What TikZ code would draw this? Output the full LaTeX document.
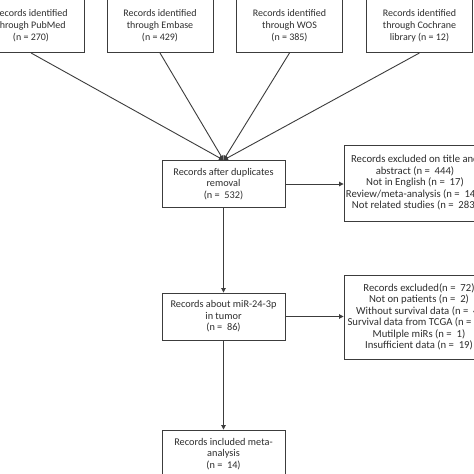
\documentclass[tikz,border=0pt]{standalone}
\usepackage{fontspec}
\setmainfont{Carlito}
\usetikzlibrary{arrows.meta}
\definecolor{linegray}{HTML}{3C3C3C}
\definecolor{textgray}{HTML}{2E2E2E}
\begin{document}
\begin{tikzpicture}[x=1pt,y=-1pt,
  box/.style={draw=linegray, line width=0.9pt, fill=white, align=center,
    inner sep=0pt, text=textgray, font=\fontsize{10.3}{11.5}\selectfont},
  topbox/.style={box, minimum width=106pt, minimum height=53pt,
    font=\fontsize{10}{12}\selectfont},
  midbox/.style={box, minimum width=123pt, minimum height=47pt},
  exbox/.style={box, font=\fontsize{10.7}{11.5}\selectfont},
  conn/.style={draw=linegray, line width=0.9pt,
    -{Triangle[length=4.5pt,width=4.5pt]}}]
\useasboundingbox (0,0) rectangle (474,474);
\clip (0,0) rectangle (474,474);
\fill[white] (0,0) rectangle (474,474);

\node[topbox] (s1) at (31,26) {Records identified\\through PubMed\\(n = 270)};
\node[topbox] (s2) at (160,26) {Records identified\\through Embase\\(n = 429)};
\node[topbox] (s3) at (289.5,26) {Records identified\\through WOS\\(n = 385)};
\node[topbox] (s4) at (419.5,26) {Records identified\\through Cochrane\\library (n = 12)};

\node[midbox] (m1) at (223.5,184) {Records after duplicates\\removal\\(n = \ 532)};
\node[exbox, minimum width=142pt, minimum height=76pt] (e1) at (415,183)
  {Records excluded on title and\\abstract (n = \ 444)\\Not in English (n = \ 17)\\Review/meta-analysis (n = \ 144)\\Not related studies (n = \ 283)};

\node[midbox] (m2) at (223.5,316.5) {Records about miR-24-3p\\in tumor\\(n = \ 86)};
\node[exbox, minimum width=150pt, minimum height=84pt] (e2) at (419,317)
  {Records excluded(n = \ 72)\\Not on patients (n = \ 2)\\Without survival data (n = \ 4)\\Survival data from TCGA (n = \ 46)\\Mutilple miRs (n = \ 1)\\Insufficient data (n = \ 19)};

\node[midbox, minimum height=48pt] (m3) at (223.5,454) {Records included meta-\\analysis\\(n = \ 14)};

\draw[conn] (s1.south) -- (m1.north);
\draw[conn] (s2.south) -- (m1.north);
\draw[conn] (s3.south) -- (m1.north);
\draw[conn] (s4.south) -- (m1.north);
\draw[conn] (m1.east) -- (m1.east -| e1.west);
\draw[conn] (m1.south) -- (m2.north);
\draw[conn] (m2.east) -- (m2.east -| e2.west);
\draw[conn] (m2.south) -- (m3.north);
\end{tikzpicture}
\end{document}
